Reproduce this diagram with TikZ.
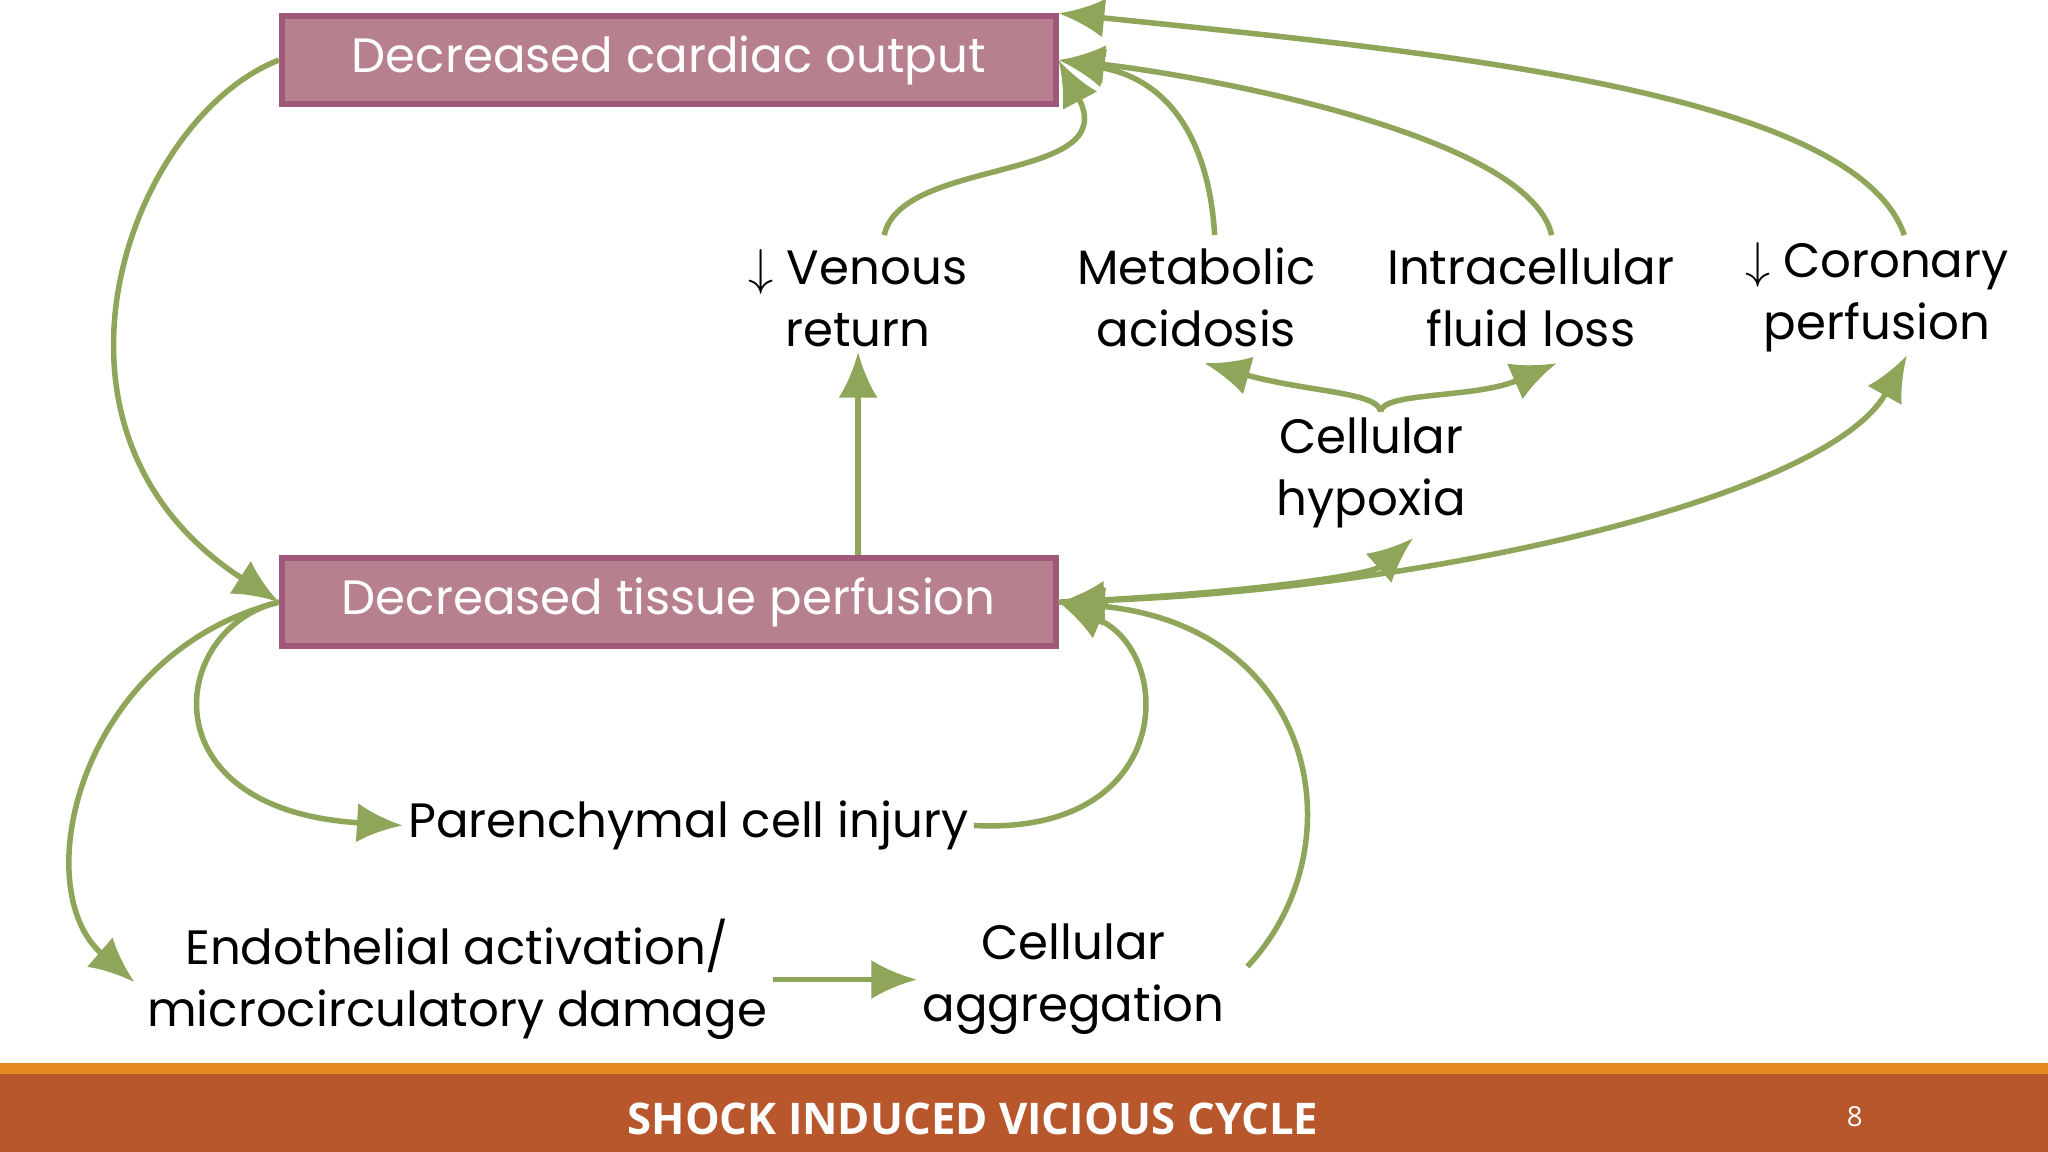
\documentclass[tikz,border=0pt]{standalone}
\usepackage{fontspec}
\setmainfont{Poppins}
\newfontfamily\footfont{Open Sans}
\usepackage{tikz}
\usetikzlibrary{positioning,arrows.meta}
\definecolor{boxfill}{HTML}{B7808F}
\definecolor{boxline}{HTML}{A0587A}
\definecolor{arrowgreen}{HTML}{8FA55A}
\definecolor{barorange}{HTML}{E58A1F}
\definecolor{barrust}{HTML}{B9572C}

\begin{document}
\begin{tikzpicture}[x=0.01cm, y=-0.01cm,
		box/.style = {draw=boxline, fill=boxfill, line width=1.3pt, minimum width=5.92cm, minimum height=0.67cm, text=white, font=\fontsize{10.5}{12}\selectfont},
		lbl/.style = {align=center, font=\fontsize{10.5}{13.5}\selectfont, inner sep=1pt},
		g/.style = {draw=arrowgreen, line width=1.2pt, -{Latex[length=3.5mm,width=3mm]}}]
		\useasboundingbox (0,0) rectangle (1568,882);
		\fill[barorange] (0,814) rectangle (1568,822);
		\fill[barrust] (0,822) rectangle (1568,882);
		\node[text=white, font=\footfont\bfseries\fontsize{9.5}{11}\selectfont] (title) at (745,857) {SHOCK INDUCED VICIOUS CYCLE};
		\node[text=white, font=\footfont\fontsize{6}{7}\selectfont] (page) at (1420,855) {8};
		\node[box] (cardiac) at (512,46) {Decreased cardiac output};
		\node[box] (tissue) at (512,461) {Decreased tissue perfusion};
		\node[lbl] (venous) at (657,228) {$\downarrow$ Venous\\return};
		\node[lbl] (acid) at (916,228) {Metabolic\\acidosis};
		\node[lbl] (fluid) at (1172,228) {Intracellular\\fluid loss};
		\node[lbl] (coronary) at (1437,228) {$\downarrow$ Coronary\\perfusion};
		\node[lbl] (hypoxia) at (1050,362) {Cellular\\hypoxia};
		\node[lbl] (paren) at (527,632) {Parenchymal cell injury};
		\node[lbl] (endo) at (350,750) {Endothelial activation/\\microcirculatory damage};
		\node[lbl] (aggr) at (822,750) {Cellular\\aggregation};
		\coordinate (brace) at (1057,315);
		% upper loop
		\draw[g] (cardiac.west) .. controls (100,90) and (10,330) .. (tissue.west);
		\draw[g] (677,180) .. controls (690,120) and (860,140) .. (cardiac.east);
		\draw[g] (930,180) .. controls (925,100) and (890,60) .. (cardiac.east);
		\draw[g] (1188,180) .. controls (1170,100) and (900,55) .. (cardiac.east);
		\draw[g] (1458,180) .. controls (1420,70) and (1100,40) .. (cardiac.north east);
		\draw[g] (tissue.north -| venous) -- (venous.south);
		% cellular hypoxia
		\draw[g] (brace) .. controls (1055,300) and (1000,300) .. (922,278);
		\draw[g] (brace) .. controls (1059,300) and (1130,305) .. (1192,278);
		\draw[g, {Latex[length=3.5mm,width=3mm]}-{Latex[length=3.5mm,width=3mm]}] (tissue.east) .. controls (1100,450) and (1400,380) .. (1460,272);
		\draw[g] (tissue.east) .. controls (950,455) and (1050,440) .. (1082,412);
		% lower loop
		\draw[g] (tissue.west) .. controls (130,480) and (110,620) .. (paren.west);
		\draw[g] (paren.east) .. controls (900,640) and (900,500) .. (tissue.east);
		\draw[g] (tissue.west) .. controls (60,500) and (20,680) .. (103,752);
		\draw[g] (endo.east) -- (aggr.west);
		\draw[g] (955,740) .. controls (1040,650) and (1010,480) .. (tissue.east);
	\end{tikzpicture}
\end{document}
